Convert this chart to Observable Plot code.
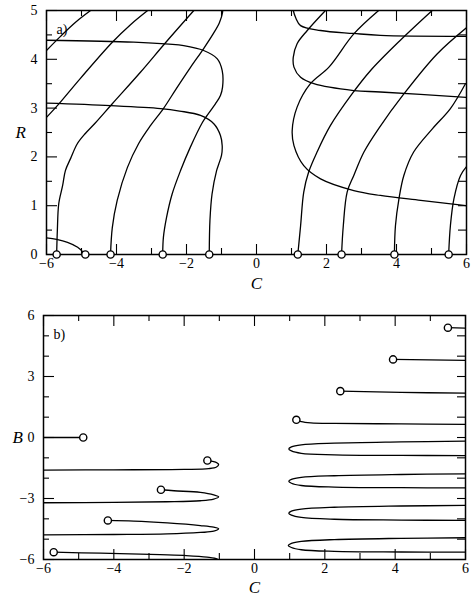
<!DOCTYPE html>
<html>
<head>
<meta charset="utf-8">
<script src="https://cdn.jsdelivr.net/npm/d3@7"></script>
<script src="https://cdn.jsdelivr.net/npm/@observablehq/plot@0.6"></script>
<style>
  html, body { margin: 0; padding: 0; background: white; overflow: hidden; }
  #chart svg { display: block; }
</style>
</head>
<body>
<div id="chart"></div>
<script>
// ---------- Panel a) : R versus C ----------
// curves as [C, R] points
const a1 = [[-6,3.10],[-4.17,3.05],[-2.74,2.99],[-2.2,2.94],[-1.6,2.85],[-1.22,2.68],[-1.03,2.44],[-0.98,2.23],[-1.0,2.03],[-1.08,1.85],[-1.14,1.72],[-1.27,1.24],[-1.33,0.70],[-1.35,0]];
const a2 = [[-6,4.39],[-3.51,4.35],[-2.5,4.31],[-2.08,4.28],[-1.51,4.18],[-1.12,4.01],[-0.98,3.77],[-0.97,3.43],[-1.03,3.26],[-1.17,3.09],[-1.41,2.85],[-1.55,2.70],[-1.89,2.20],[-2.17,1.72],[-2.41,1.24],[-2.57,0.76],[-2.66,0.35],[-2.68,0]];
const a3 = [[-4.17,0],[-4.12,0.55],[-3.98,1.11],[-3.69,1.78],[-3.37,2.27],[-3.03,2.64],[-2.66,2.99],[-2.29,3.40],[-1.89,3.83],[-1.51,4.22],[-1.23,4.53],[-1.06,4.75],[-0.97,4.96],[-0.97,5.05]];
const a4 = [[-5.71,0],[-5.69,0.49],[-5.65,1.04],[-5.54,1.41],[-5.46,1.72],[-5.31,1.97],[-5.12,2.27],[-4.89,2.48],[-4.6,2.70],[-4.12,3.09],[-3.31,3.74],[-2.6,4.34],[-1.79,5.0]];
const a5 = [[-6,2.81],[-5.69,3.05],[-5.03,3.61],[-4.12,4.35],[-3.6,4.71],[-3.11,5.0]];
const a6 = [[-6,4.18],[-5.6,4.47],[-5.17,4.76],[-4.74,5.0]];
const a7 = [[-4.89,0],[-5.11,0.15],[-5.4,0.25],[-5.71,0.31],[-6,0.34]];
const a8 = [[1.18,0],[1.26,0.59],[1.35,1.28],[1.49,1.69],[1.73,2.10],[2.11,2.64],[2.73,3.29],[3.26,3.77],[4.11,4.39],[5.02,5.0]];
const a9 = [[2.43,0],[2.48,0.59],[2.59,1.28],[2.78,1.62],[3.07,2.10],[3.49,2.58],[4.21,3.29],[5.16,4.11],[6.02,4.66]];
const a10 = [[3.94,0],[3.97,0.59],[4.07,1.14],[4.21,1.62],[4.49,2.10],[5.03,2.58],[5.54,2.99],[5.97,3.50]];
const a11 = [[5.49,0],[5.54,0.59],[5.64,1.14],[5.83,1.62],[6.0,1.80]];
const a12 = [[1.05,5.0],[1.12,4.85],[1.26,4.69],[1.83,4.59],[2.77,4.53],[3.54,4.49],[6.0,4.47]];
const a13 = [[1.97,5.0],[1.45,4.59],[1.16,4.32],[1.05,4.04],[1.07,3.84],[1.26,3.63],[1.64,3.50],[2.78,3.36],[3.54,3.33],[6.0,3.22]];
const a14 = [[3.49,5.0],[2.78,4.52],[2.07,3.84],[1.54,3.50],[1.16,3.02],[1.02,2.54],[1.07,2.23],[1.35,1.82],[1.83,1.55],[2.78,1.31],[3.54,1.21],[4.69,1.11],[6.02,1.0]];
const circlesA = [[-5.71,0],[-4.89,0],[-4.17,0],[-2.68,0],[-1.35,0],[1.18,0],[2.43,0],[3.94,0],[5.49,0]];
const xTickLabels = [-6,-4,-2,0,2,4,6];
const xMajor = [-6,-4,-2,0,2,4,6];
const xMinor = [-5,-3,-1,1,3,5];
const rTickLabels = [0,1,2,3,4,5];
const rMajor = [0,1,2,3,4,5];
const rMinor = [0.5,1.5,2.5,3.5,4.5];
const rRight = [0.5,1,1.5,2,2.5,3,3.5,4,4.5];

// ---------- Panel b) : B versus C ----------
const b1 = [[-4.87,0],[-6,0]];
const b2 = [[-1.34,-1.13],[-1.2,-1.17],[-1.06,-1.25],[-1.02,-1.33],[-1.08,-1.45],[-1.3,-1.53],[-2,-1.57],[-4,-1.59],[-6,-1.60]];
const b3 = [[-2.66,-2.57],[-2.29,-2.62],[-1.54,-2.70],[-1.16,-2.82],[-1.02,-2.92],[-1.16,-3.03],[-1.54,-3.11],[-2.5,-3.16],[-4,-3.19],[-6,-3.21]];
const b4 = [[-4.17,-4.08],[-3.43,-4.11],[-2.48,-4.20],[-1.54,-4.33],[-1.16,-4.41],[-1.02,-4.49],[-1.16,-4.61],[-1.54,-4.67],[-2.48,-4.74],[-4,-4.77],[-6,-4.79]];
const b5 = [[-5.71,-5.64],[-4.38,-5.69],[-2.96,-5.75],[-2.01,-5.80],[-1.35,-5.88],[-1.06,-5.98],[-1.0,-6.1]];
const b6 = [[5.99,-0.18],[4.17,-0.22],[2.27,-0.28],[1.33,-0.36],[1.05,-0.46],[0.975,-0.56],[1.05,-0.66],[1.33,-0.78],[2.27,-0.85],[4.17,-0.88],[5.99,-0.89]];
const b7 = [[5.99,-1.79],[4.17,-1.82],[2.27,-1.88],[1.33,-1.96],[1.05,-2.06],[0.975,-2.15],[1.05,-2.25],[1.33,-2.36],[2.27,-2.44],[4.17,-2.47],[5.99,-2.48]];
const b8 = [[5.99,-3.34],[4.17,-3.37],[2.27,-3.43],[1.33,-3.52],[1.05,-3.62],[0.975,-3.72],[1.05,-3.82],[1.33,-3.93],[2.27,-4.02],[4.17,-4.06],[5.99,-4.08]];
const b9 = [[5.99,-4.93],[4.17,-4.96],[2.27,-5.02],[1.33,-5.11],[1.05,-5.21],[0.96,-5.31],[1.05,-5.41],[1.33,-5.52],[2.27,-5.60],[4.17,-5.63],[5.99,-5.64]];
const b10 = [[1.19,0.87],[1.33,0.78],[1.6,0.72],[2.27,0.69],[4.17,0.67],[5.99,0.65]];
const b11 = [[2.44,2.28],[4.17,2.22],[5.99,2.18]];
const b12 = [[3.94,3.84],[5.99,3.79]];
const b13 = [[5.5,5.4],[5.99,5.38]];
const circlesB = [[-4.87,0],[-1.34,-1.13],[-2.66,-2.57],[-4.17,-4.08],[-5.71,-5.64],[5.5,5.4],[3.94,3.84],[2.44,2.28],[1.19,0.87]];
const bTickLabels = [-6,-3,0,3,6];
const bMajor = [-6,-3,0,3,6];
const bMinor = [-5,-4,-2,-1,1,2,4,5];
const bRight = [-5,-4,-3,-2,-1,0,1,2,3,4,5];

// ---------- build tables ----------
function flatten(named) {
  const out = [];
  for (const [id, pts] of Object.entries(named)) for (const [c, v] of pts) out.push({id, c, v});
  return out;
}
const curvesA = flatten({a1,a2,a3,a4,a5,a6,a7,a8,a9,a10,a11,a12,a13,a14});
const curvesB = flatten({b1,b2,b3,b4,b5,b6,b7,b8,b9,b10,b11,b12,b13});

const serif = "'Liberation Serif', 'DejaVu Serif', serif";
const fmt = d => d < 0 ? "\u2212" + (-d) : String(d);

function panel({data, circles, yDomain, yLabels, yMajor, yMinor, yRight, yName, tag,
                height, mTop, mBottom, mLeft, mRight, cDy}) {
  const W = 474;
  const iw = W - mLeft - mRight;
  const ih = height - mTop - mBottom;
  const lw = 1.1;
  return Plot.plot({
    width: W, height,
    marginTop: mTop, marginBottom: mBottom, marginLeft: mLeft, marginRight: mRight,
    style: {fontFamily: serif, fontSize: "14px", background: "white", color: "black"},
    x: {domain: [-6, 6]},
    y: {domain: yDomain},
    marks: [
      Plot.line(data, {x: "c", y: "v", z: "id", curve: "catmull-rom", stroke: "black", strokeWidth: 1.3, clip: true}),
      // inward ticks: bottom, top
      Plot.tickX(xMajor, {x: d => d, insetTop: ih - 10, stroke: "black", strokeWidth: lw}),
      Plot.tickX(xMinor, {x: d => d, insetTop: ih - 6, stroke: "black", strokeWidth: lw}),
      Plot.tickX(xMajor, {x: d => d, insetBottom: ih - 11, stroke: "black", strokeWidth: lw}),
      Plot.tickX(xMinor, {x: d => d, insetBottom: ih - 6, stroke: "black", strokeWidth: lw}),
      // inward ticks: left, right
      Plot.tickY(yMajor, {y: d => d, insetRight: iw - 11, stroke: "black", strokeWidth: lw}),
      Plot.tickY(yMinor, {y: d => d, insetRight: iw - 6, stroke: "black", strokeWidth: lw}),
      Plot.tickY(yRight, {y: d => d, insetLeft: iw - 8, stroke: "black", strokeWidth: lw}),
      Plot.frame({stroke: "black", strokeWidth: 1.5}),
      Plot.dot(circles, {x: d => d[0], y: d => d[1], r: 3.6, stroke: "black", fill: "white", strokeWidth: 1.4}),
      Plot.axisX({anchor: "bottom", ticks: xTickLabels, tickSize: 0, tickPadding: 4, tickFormat: fmt, label: null, fontSize: 14}),
      Plot.axisY({anchor: "left", ticks: yLabels, tickSize: 0, tickPadding: 9, tickFormat: fmt, label: null, fontSize: 14}),
      Plot.text(["C"], {frameAnchor: "bottom", dy: cDy, fontStyle: "italic", fontSize: 17}),
      Plot.text([yName], {frameAnchor: "left", dx: -31, fontStyle: "italic", fontSize: 17}),
      Plot.text([tag], {frameAnchor: "top-left", dx: 10, dy: 14, textAnchor: "start", fontSize: 14})
    ]
  });
}

const chart = document.getElementById("chart");
chart.append(panel({
  data: curvesA, circles: circlesA, yDomain: [0, 5], yLabels: rTickLabels,
  yMajor: rMajor, yMinor: rMinor, yRight: rRight, yName: "R", tag: "a)",
  height: 300, mTop: 10, mBottom: 46, mLeft: 46, mRight: 8, cDy: 34
}));
chart.append(panel({
  data: curvesB, circles: circlesB, yDomain: [-6, 6], yLabels: bTickLabels,
  yMajor: bMajor, yMinor: bMinor, yRight: bRight, yName: "B", tag: "b)",
  height: 301, mTop: 15, mBottom: 42, mLeft: 43, mRight: 9, cDy: 33
}));
</script>
</body>
</html>
